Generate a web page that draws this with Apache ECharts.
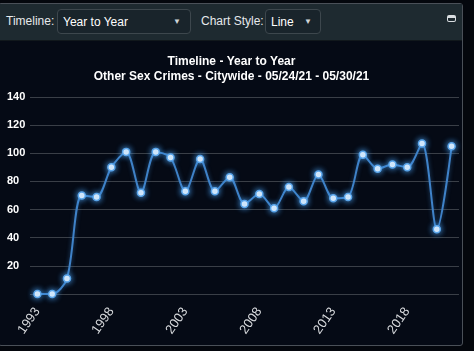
<!DOCTYPE html>
<html>
<head>
<meta charset="utf-8">
<script src="https://cdn.jsdelivr.net/npm/echarts@6/dist/echarts.min.js"></script>
<style>
  html, body { margin: 0; padding: 0; background: #04070d; width: 474px; height: 351px; overflow: hidden; font-family: "Liberation Sans", Arial, sans-serif; }
  .panel { position: absolute; left: -2px; top: 3px; width: 465px; height: 343px; border: 1px solid #4a5058; border-radius: 3px; background: #050a15; box-sizing: border-box; }
  .bar { position: absolute; left: 0; top: 0; right: 0; height: 36px; background: #1e2a30; border-bottom: 1px solid #11181c; }
  .lbl { position: absolute; top: 10px; color: #e6e9ec; font-size: 12px; }
  .sel { position: absolute; top: 5px; height: 25px; border: 1px solid #3d474d; border-radius: 4px; background: #19242b; color: #fff; font-size: 12px; box-sizing: border-box; }
  .sel span { position: absolute; top: 5px; left: 5px; }
  .sel i { position: absolute; top: 7px; font-style: normal; font-size: 8px; color: #cfd4d8; }
  .icon { position: absolute; left: 448px; top: 11px; width: 9px; height: 7px; border: 1.5px solid #d9dde0; border-top-width: 3px; border-radius: 2px; box-sizing: border-box; }
  #chart { position: absolute; left: 2px; top: 36px; width: 461px; height: 306px; }
</style>
</head>
<body>
<div class="panel">
  <div class="bar">
    <div class="lbl" style="left:7px">Timeline:</div>
    <div class="sel" style="left:58px;width:134px"><span>Year to Year</span><i style="left:115px">&#9660;</i></div>
    <div class="lbl" style="left:202px">Chart Style:</div>
    <div class="sel" style="left:266px;width:56px"><span>Line</span><i style="left:38px">&#9660;</i></div>
    <div class="icon"></div>
  </div>
  <div id="chart"></div>
</div>
<script>
var years = [];
for (var y = 1993; y <= 2021; y++) years.push(String(y));
var counts = [0, 0, 11, 70, 69, 90, 101, 72, 101, 97, 73, 96, 73, 83, 64, 71, 61, 76, 66, 85, 68, 69, 99, 89, 92, 90, 107, 46, 105];
var titleLines = ['Timeline - Year to Year', 'Other Sex Crimes - Citywide - 05/24/21 - 05/30/21'];

var chart = echarts.init(document.getElementById('chart'));
chart.setOption({
  backgroundColor: 'transparent',
  animation: false,
  title: {
    text: titleLines.join('\n'),
    left: 'center',
    top: 9,
    textStyle: { color: '#ffffff', fontSize: 12, fontWeight: 'bold', lineHeight: 15, fontFamily: 'Liberation Sans, Arial' }
  },
  grid: { left: 29, right: 3, top: 57, bottom: 52 },
  xAxis: {
    type: 'category',
    data: years,
    boundaryGap: true,
    axisLine: { show: false },
    axisTick: { show: false },
    axisLabel: {
      interval: 4,
      rotate: 55,
      margin: 15,
      color: '#d8dadd',
      fontSize: 13,
      fontFamily: 'Liberation Sans, Arial'
    }
  },
  yAxis: {
    type: 'value',
    min: 0,
    max: 140,
    interval: 20,
    axisLine: { show: false },
    axisTick: { show: false },
    splitLine: { lineStyle: { color: '#3a3f47', width: 1 } },
    axisLabel: {
      align: 'left',
      margin: 23,
      color: '#ffffff',
      fontSize: 11,
      fontWeight: 'bold',
      fontFamily: 'Liberation Sans, Arial',
      formatter: function (v) { return v === 0 ? '' : v; }
    }
  },
  series: [{
    type: 'line',
    data: counts,
    smooth: 0.3,
    symbol: 'circle',
    symbolSize: 7,
    lineStyle: { color: '#3f82c8', width: 2, shadowColor: 'rgba(70,150,230,0.5)', shadowBlur: 4 },
    itemStyle: { color: '#ffffff', borderColor: '#5aa5ea', borderWidth: 1.5, shadowColor: '#4aa0f0', shadowBlur: 6 }
  }]
});
</script>
</body>
</html>
